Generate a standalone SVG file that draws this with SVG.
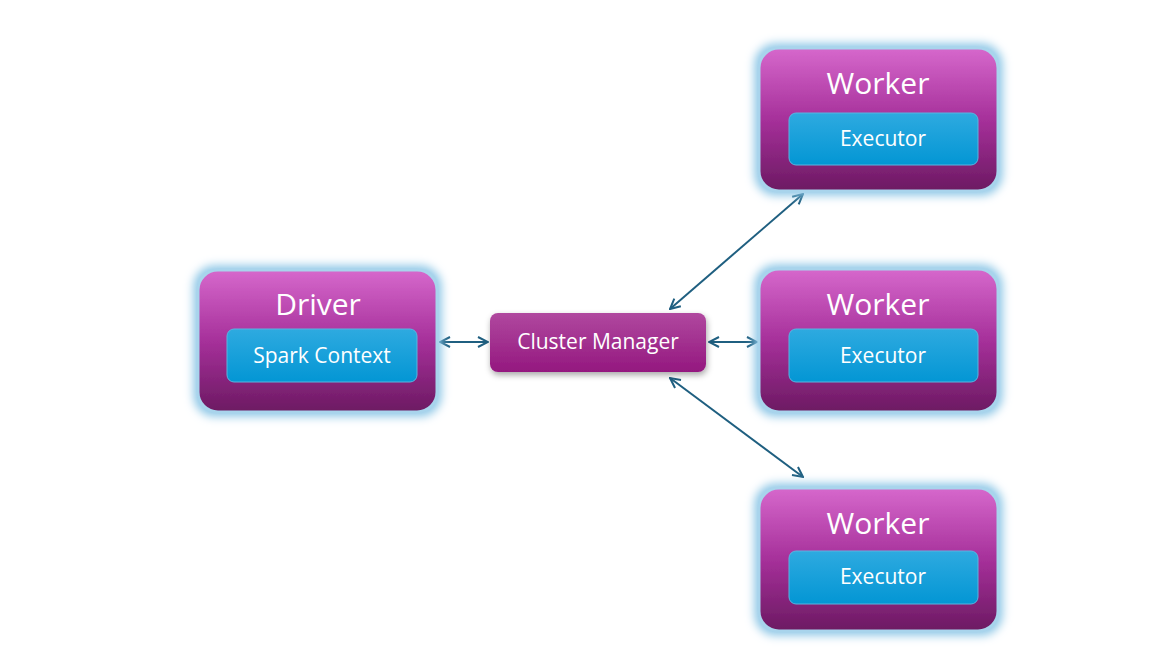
<svg xmlns="http://www.w3.org/2000/svg" width="1160" height="662" viewBox="0 0 1160 662">
<style>
.outer{fill:url(#pg);stroke:#a8d4ec;stroke-width:3;filter:url(#glow)}
.inner{fill:url(#bg);stroke:#5ab4e0;stroke-width:1}
.t1{font-family:"Open Sans","Liberation Sans",sans-serif;font-size:30px;fill:#fff;text-anchor:middle}
.t2{font-family:"Open Sans","Liberation Sans",sans-serif;font-size:21px;fill:#fff;text-anchor:middle}
.c{stroke:#1f5f80;stroke-width:2;fill:none;marker-start:url(#a);marker-end:url(#a)}
</style>
<defs>
<linearGradient id="pg" x1="0" y1="0" x2="0" y2="1"><stop offset="0" stop-color="#d668cc"/><stop offset="0.5" stop-color="#a6309a"/><stop offset="1" stop-color="#6c1a62"/></linearGradient>
<linearGradient id="bg" x1="0" y1="0" x2="0" y2="1"><stop offset="0" stop-color="#2eaae0"/><stop offset="1" stop-color="#0396d4"/></linearGradient>
<linearGradient id="cg" x1="0" y1="0" x2="0" y2="1"><stop offset="0" stop-color="#b0489f"/><stop offset="1" stop-color="#94187f"/></linearGradient>
<filter id="glow" x="-20%" y="-25%" width="140%" height="150%"><feMorphology in="SourceAlpha" operator="dilate" radius="3" result="d"/><feGaussianBlur in="d" stdDeviation="5" result="b"/><feFlood flood-color="#8cc6e6"/><feComposite in2="b" operator="in"/><feMerge><feMergeNode/><feMergeNode in="SourceGraphic"/></feMerge></filter>
<filter id="sh" x="-20%" y="-20%" width="140%" height="150%"><feDropShadow dx="1" dy="3" stdDeviation="3" flood-color="#000" flood-opacity="0.35"/></filter>
<marker id="a" viewBox="0 0 12 12" refX="11" refY="6" markerWidth="12" markerHeight="12" markerUnits="userSpaceOnUse" orient="auto-start-reverse"><path d="M1,1 L11,6 L1,11" fill="none" stroke="#1f5f80" stroke-width="2"/></marker>
</defs>
<g id="connectors">
<line class="c" x1="440" y1="342" x2="488" y2="342"/>
<line class="c" x1="709" y1="342" x2="757" y2="342"/>
<line class="c" x1="670" y1="309" x2="803" y2="194"/>
<line class="c" x1="670" y1="378" x2="803" y2="477"/>
</g>
<g id="driver"><rect class="outer" x="198" y="270" width="239" height="142" rx="20"/><text class="t1" x="318" y="315">Driver</text>
<rect class="inner" x="227" y="329" width="190" height="53" rx="7"/><text class="t2" x="322" y="363">Spark Context</text></g>
<g id="cluster-manager"><rect x="490" y="313" width="216" height="59" rx="8" fill="url(#cg)" filter="url(#sh)"/><text class="t2" x="598" y="349">Cluster Manager</text></g>
<g id="worker1"><rect class="outer" x="759" y="48" width="239" height="143" rx="20"/><text class="t1" x="878" y="94">Worker</text>
<rect class="inner" x="789" y="113" width="189" height="52" rx="7"/><text class="t2" x="883" y="146">Executor</text></g>
<g id="worker2"><rect class="outer" x="759" y="269" width="239" height="143" rx="20"/><text class="t1" x="878" y="315">Worker</text>
<rect class="inner" x="789" y="329" width="189" height="53" rx="7"/><text class="t2" x="883" y="363">Executor</text></g>
<g id="worker3"><rect class="outer" x="759" y="488" width="239" height="143" rx="20"/><text class="t1" x="878" y="534">Worker</text>
<rect class="inner" x="789" y="551" width="189" height="53" rx="7"/><text class="t2" x="883" y="584">Executor</text></g>
</svg>
